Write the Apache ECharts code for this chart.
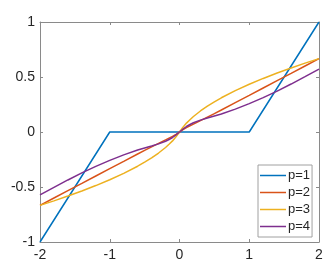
<!DOCTYPE html>
<html>
<head>
<meta charset="utf-8">
<script src="https://cdn.jsdelivr.net/npm/echarts@6/dist/echarts.min.js"></script>
<style>html,body{margin:0;padding:0;background:#fff}#c{width:336px;height:279px}</style>
</head>
<body>
<div id="c"></div>
<script>
const names = ['p=1', 'p=2', 'p=3', 'p=4'];
const xTicks = [-2, -1, 0, 1, 2];
const yTicks = [-1, -0.5, 0, 0.5, 1];
const blueX = [-2, -1, 1, 2];
const blueY = [-1, 0, 0, 1];
const xGrid = [-2, -1.8, -1.6, -1.4, -1.2, -1, -0.8, -0.6, -0.5, -0.4, -0.3, -0.2, -0.15, -0.1, -0.05, 0,
  0.05, 0.1, 0.15, 0.2, 0.3, 0.4, 0.5, 0.6, 0.8, 1, 1.2, 1.4, 1.6, 1.8, 2];
const orangeY = [-0.667, -0.6, -0.533, -0.467, -0.4, -0.333, -0.267, -0.2, -0.167, -0.135, -0.103, -0.072, -0.056, -0.04, -0.021, 0,
  0.021, 0.04, 0.056, 0.072, 0.103, 0.135, 0.167, 0.2, 0.267, 0.333, 0.4, 0.467, 0.533, 0.6, 0.667];
const yellowY = [-0.667, -0.626, -0.582, -0.537, -0.487, -0.434, -0.376, -0.311, -0.274, -0.235, -0.191, -0.141, -0.112, -0.081, -0.044, 0,
  0.044, 0.081, 0.112, 0.141, 0.191, 0.235, 0.274, 0.311, 0.376, 0.434, 0.487, 0.537, 0.582, 0.626, 0.667];
const purpleY = [-0.572, -0.503, -0.436, -0.372, -0.312, -0.258, -0.208, -0.164, -0.146, -0.128, -0.108, -0.084, -0.068, -0.05, -0.027, 0,
  0.027, 0.05, 0.068, 0.084, 0.108, 0.128, 0.146, 0.164, 0.208, 0.258, 0.312, 0.372, 0.436, 0.503, 0.572];
const colors = ['#0072BD', '#D95319', '#EDB120', '#7E2F8E'];

const zip = (xs, ys) => xs.map((x, i) => [x, ys[i]]);
const font = 'Liberation Sans, Arial, sans-serif';
const axisCol = '#8a8a8a';
const txtCol = '#262626';

function xAxis(pos, show) {
  return {
    type: 'value', position: pos, min: xTicks[0], max: xTicks[xTicks.length - 1], interval: 1,
    axisLine: { show: true, onZero: false, lineStyle: { color: axisCol, width: 1 } },
    axisTick: { show: true, inside: true, length: 3, lineStyle: { color: axisCol } },
    axisLabel: { show: show, margin: 6, color: txtCol, fontSize: 14, fontFamily: font },
    splitLine: { show: false }
  };
}
function yAxis(pos, show) {
  return {
    type: 'value', position: pos, min: yTicks[0], max: yTicks[yTicks.length - 1], interval: 0.5,
    axisLine: { show: true, onZero: false, lineStyle: { color: axisCol, width: 1 } },
    axisTick: { show: true, inside: true, length: 3, lineStyle: { color: axisCol } },
    axisLabel: { show: show, margin: 5, color: txtCol, fontSize: 14, fontFamily: font },
    splitLine: { show: false }
  };
}

const seriesData = [zip(blueX, blueY), zip(xGrid, orangeY), zip(xGrid, yellowY), zip(xGrid, purpleY)];

const chart = echarts.init(document.getElementById('c'), null, { renderer: 'canvas' });
chart.setOption({
  animation: false,
  backgroundColor: '#fff',
  grid: { left: 40, right: 17, top: 22, bottom: 37 },
  xAxis: [xAxis('bottom', true), xAxis('top', false)],
  yAxis: [yAxis('left', true), yAxis('right', false)],
  legend: {
    orient: 'vertical', left: 258, top: 165,
    data: names,
    icon: 'rect',
    itemWidth: 26, itemHeight: 1.5, itemGap: 4,
    padding: [4, 2, 4, 2],
    borderColor: '#a0a0a0', borderWidth: 1, backgroundColor: '#fff',
    textStyle: { color: txtCol, fontSize: 13, fontFamily: font, padding: [0, 0, 0, -3] }
  },
  series: seriesData.map((d, i) => ({
    name: names[i], type: 'line', data: d, symbol: 'none', showSymbol: false,
    smooth: false,
    color: colors[i],
    lineStyle: { color: colors[i], width: 1.5 },
    emphasis: { disabled: true }
  }))
});
</script>
</body>
</html>
